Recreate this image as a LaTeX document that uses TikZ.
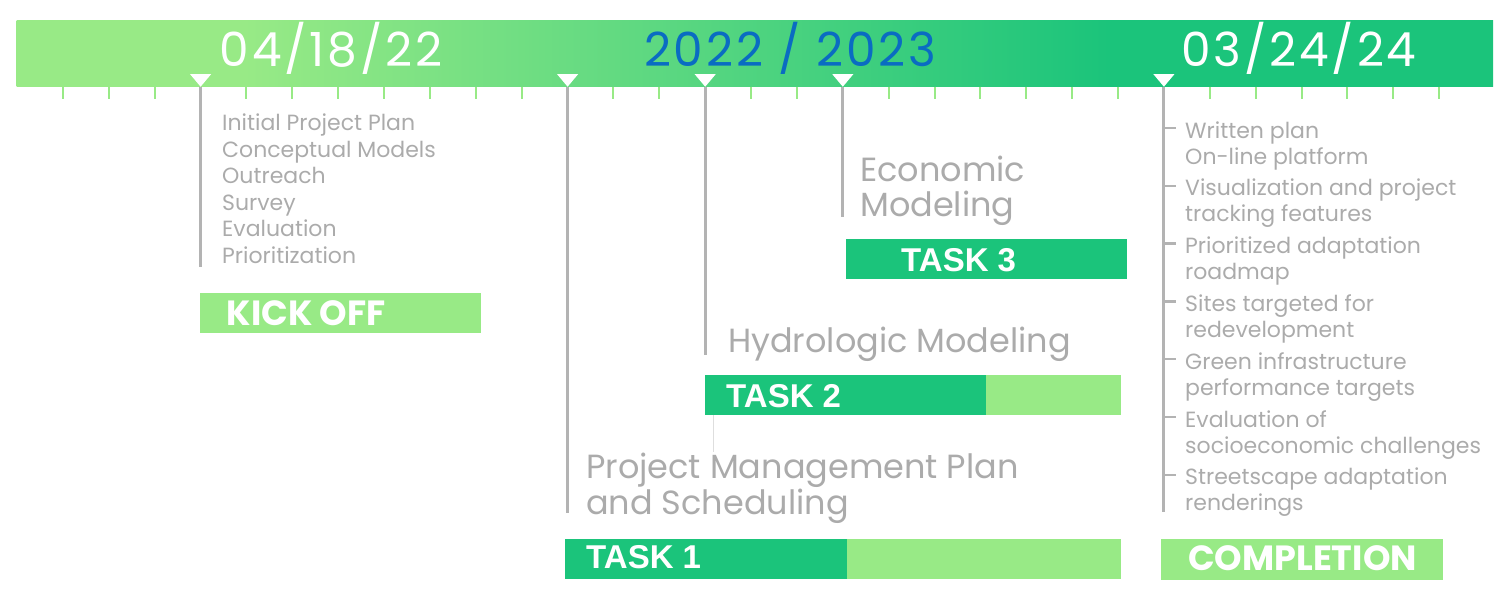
\documentclass[tikz,border=0pt]{standalone}
\usepackage{fontspec}
\setmainfont{Poppins}
\newfontfamily\taskfont{Liberation Sans}
\newfontfamily\datefont{Poppins}[LetterSpace=6]
\definecolor{lgreen}{HTML}{98EA86}
\definecolor{dgreen}{HTML}{1BC47B}
\definecolor{dateblue}{HTML}{0A6CC2}
\definecolor{txtgray}{HTML}{ABABAB}
\definecolor{linegray}{HTML}{B3B3B3}
\definecolor{faintgray}{HTML}{DEDEDE}
\pgfdeclarehorizontalshading{bandshade}{100bp}{color(0bp)=(lgreen); color(32.7bp)=(lgreen); color(62bp)=(dgreen); color(100bp)=(dgreen)}
\tikzset{
  graytxt/.style={text=txtgray, inner sep=0pt, anchor=base west, align=left},
  listtxt/.style={graytxt, font=\fontsize{22}{26}\selectfont},
  headtxt/.style={graytxt, font=\fontsize{33.5}{35.5}\selectfont},
  datetxt/.style={inner sep=0pt, anchor=base, font=\datefont\fontsize{47}{47}\selectfont},
  tasklbl/.style={text=white, inner sep=0pt, anchor=base west, font=\taskfont\bfseries\fontsize{33}{33}\selectfont},
  milelbl/.style={text=white, inner sep=0pt, anchor=base west, font=\bfseries\fontsize{35}{35}\selectfont},
  stem/.style={draw=linegray, line width=3pt},
  itemtick/.style={draw=linegray, line width=2.5pt},
  tickmark/.style={draw=lgreen, line width=2pt},
  marker/.style={fill=white},
}
\begin{document}
\begin{tikzpicture}[x=1pt,y=-1pt]
\useasboundingbox (0,0) rectangle (1510,606);
% band
\shade[shading=bandshade] (16.5,20.7) rectangle (1493,86.7);
% ticks
\foreach \k in {0,...,30} \draw[tickmark] ({63+45.87*\k},86.7) -- ++(0,12.5);
% dates
\node[datetxt, text=white] (d1) at (331,66) {04/18/22};
\node[datetxt, text=dateblue] (d2) at (790,66) {2022 / 2023};
\node[datetxt, text=white] (d3) at (1299,66) {03/24/24};
% milestones
\coordinate (mk) at (200.6,86.7);
\coordinate (m1) at (567.6,86.7);
\coordinate (m2) at (705.2,86.7);
\coordinate (m3) at (842.8,86.7);
\coordinate (mc) at (1163.9,86.7);
\coordinate (ek) at (200.6,266.5);
\coordinate (e1) at (567.6,513);
\coordinate (e2) at (705.2,355);
\coordinate (e3) at (842.8,216.5);
\coordinate (ec) at (1163.9,511.5);
\foreach \a/\b in {mk/ek, m1/e1, m2/e2, m3/e3, mc/ec}{
  \draw[stem] (\a) -- (\b);
  \fill[marker] ([shift={(-10.5,-12.5)}]\a) -- ([shift={(10.5,-12.5)}]\a) -- (\a) -- cycle;
}
% faint line
\coordinate (fa) at (713.5,415);
\coordinate (fb) at (713.5,452);
\draw[faintgray, line width=1pt] (fa) -- (fb);
% bars
\fill[lgreen] (200,293) rectangle (481,333);
\fill[dgreen] (846,239) rectangle (1127,279);
\fill[dgreen] (705,375) rectangle (986,415);
\fill[lgreen] (986,375) rectangle (1121,415);
\fill[dgreen] (565,539) rectangle (847,579);
\fill[lgreen] (847,539) rectangle (1121,579);
\fill[lgreen] (1161,539) rectangle (1443,580);
% bar labels
\node[milelbl] (kick) at (226.5,325.5) {KICK OFF};
\node[tasklbl] (task3) at (901,271.5) {TASK 3};
\node[tasklbl] (task2) at (726,407) {TASK 2};
\node[tasklbl] (task1) at (586,568.5) {TASK 1};
\node[milelbl] (compl) at (1188,570.5) {COMPLETION};
% kick off list (base anchor = last line)
\node[listtxt, font=\fontsize{22}{26.5}\selectfont] (klist) at (222,263)
  {Initial Project Plan\\Conceptual Models\\Outreach\\Survey\\Evaluation\\Prioritization};
% headings
\node[headtxt] (econ) at (860,216.5) {Economic\\Modeling};
\node[headtxt] (hydro) at (728,352) {Hydrologic Modeling};
\node[headtxt, font=\fontsize{33.5}{36}\selectfont] (pm) at (586,514) {Project Management Plan\\and Scheduling};
% completion list
\foreach \i/\txt in {0/{Written plan\\On-line platform},
                     1/{Visualization and project\\tracking features},
                     2/{Prioritized adaptation\\roadmap},
                     3/{Sites targeted for\\redevelopment},
                     4/{Green infrastructure\\performance targets},
                     5/{Evaluation of\\socioeconomic challenges},
                     6/{Streetscape adaptation\\renderings}}{
  \node[listtxt] (c\i) at (1185,{164+57.8*\i}) {\txt};
  \path ([yshift=36pt]c\i.base) coordinate (cy\i);
  \draw[itemtick] (mc |- cy\i) -- ++(12,0);
}
\end{tikzpicture}
\end{document}
